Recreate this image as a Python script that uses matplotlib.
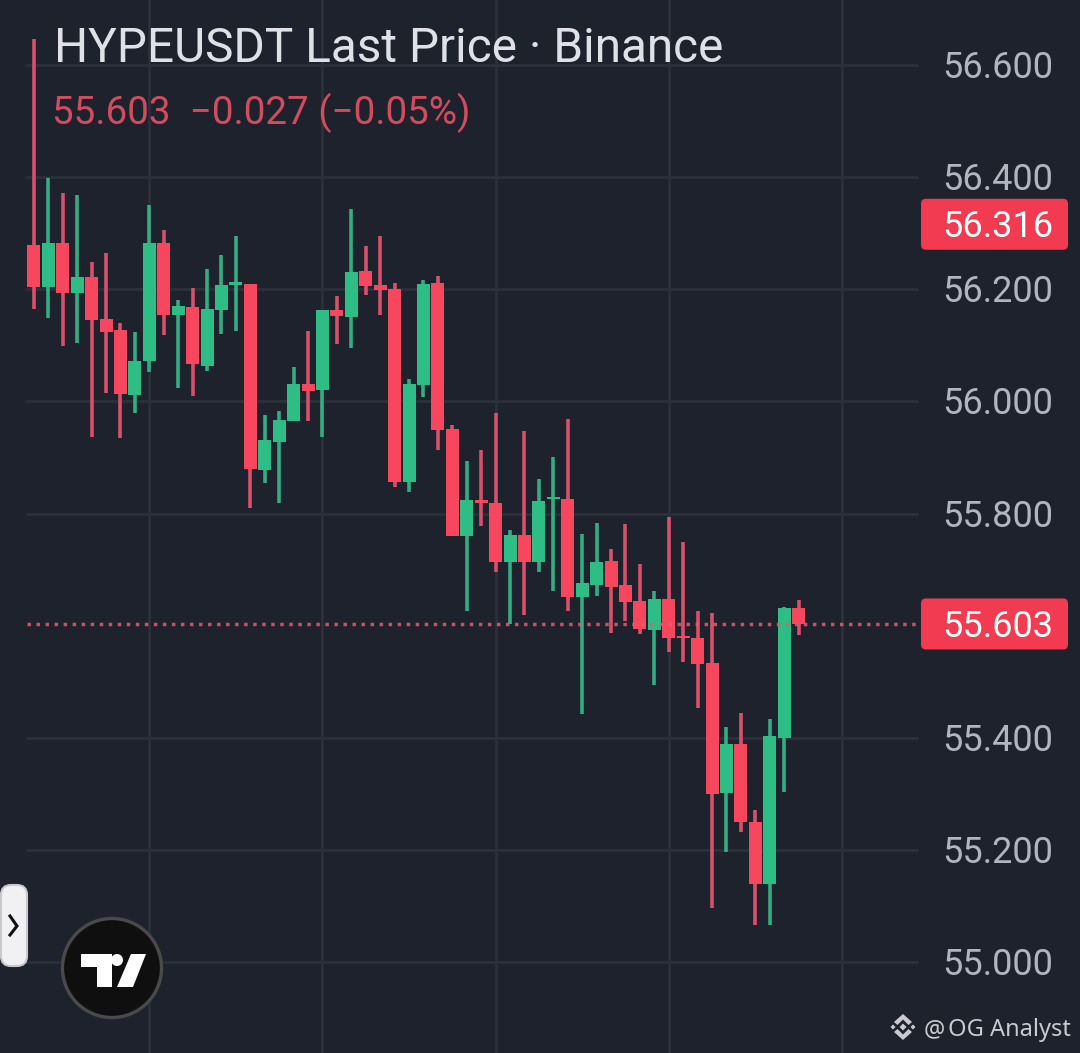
import matplotlib
matplotlib.use("Agg")
from matplotlib import pyplot as plt
from matplotlib.patches import Circle, FancyBboxPatch, Polygon

plt.rcParams['font.family'] = ['Roboto', 'DejaVu Sans']

# candles, oldest first
opens = [56.279, 56.204, 56.283, 56.193, 56.222, 56.147, 56.127, 56.011, 56.072, 56.283,
         56.154, 56.168, 56.063, 56.163, 56.208, 56.209, 55.878, 55.928, 55.965, 56.031,
         56.020, 56.163, 56.151, 56.233, 56.208, 56.201, 55.856, 56.029, 56.211, 55.951,
         55.760, 55.824, 55.819, 55.714, 55.762, 55.714, 55.826, 55.826, 55.651, 55.672,
         55.715, 55.672, 55.644, 55.592, 55.648, 55.582, 55.578, 55.533, 55.301, 55.389,
         55.250, 55.139, 55.400, 55.631]
highs = [56.646, 56.399, 56.372, 56.368, 56.249, 56.265, 56.140, 56.124, 56.350, 56.306,
         56.181, 56.202, 56.236, 56.261, 56.295, 56.209, 55.976, 55.983, 56.061, 56.126,
         56.163, 56.188, 56.343, 56.277, 56.295, 56.211, 56.040, 56.217, 56.224, 55.958,
         55.894, 55.913, 55.979, 55.771, 55.947, 55.862, 55.901, 55.969, 55.763, 55.783,
         55.737, 55.781, 55.710, 55.662, 55.794, 55.749, 55.626, 55.623, 55.419, 55.444,
         55.271, 55.433, 55.633, 55.646]
lows = [56.165, 56.149, 56.099, 56.104, 55.937, 56.015, 55.935, 55.979, 56.052, 56.118,
        56.024, 56.010, 56.054, 56.120, 56.126, 55.810, 55.854, 55.819, 55.965, 55.965,
        55.937, 56.102, 56.095, 56.190, 56.154, 55.847, 55.838, 56.008, 55.913, 55.760,
        55.626, 55.778, 55.696, 55.603, 55.619, 55.696, 55.662, 55.626, 55.442, 55.653,
        55.587, 55.608, 55.585, 55.494, 55.553, 55.535, 55.453, 55.096, 55.196, 55.232,
        55.066, 55.066, 55.303, 55.583]
closes = [56.204, 56.283, 56.193, 56.222, 56.145, 56.124, 56.013, 56.072, 56.283, 56.154,
          56.170, 56.067, 56.165, 56.208, 56.213, 55.879, 55.931, 55.967, 56.031, 56.019,
          56.163, 56.152, 56.231, 56.206, 56.199, 55.856, 56.031, 56.209, 55.949, 55.760,
          55.824, 55.819, 55.714, 55.762, 55.714, 55.822, 55.829, 55.651, 55.676, 55.714,
          55.669, 55.642, 55.594, 55.648, 55.578, 55.578, 55.532, 55.300, 55.389, 55.250,
          55.139, 55.403, 55.631, 55.603]

price_ticks = [56.6, 56.4, 56.2, 56.0, 55.8, 55.6, 55.4, 55.2, 55.0]
time_grid = [8, 20, 32, 44, 56]
last_price = 55.603
tag_prices = [56.316, 55.603]
title = "HYPEUSDT Last Price · Binance"
subtitle = "55.603  \u22120.027 (\u22120.05%)"

BG = "#1e222d"
GRID = "#2c303b"
RED = "#f7475f"
GREEN = "#2ebd85"
RED_WICK = "#d8506a"
GREEN_WICK = "#35ad82"

fig = plt.figure(figsize=(10.8, 10.53), dpi=100, facecolor=BG)
ax = fig.add_axes([0, 0, 1, 1], facecolor=BG)
ax.set_xlim(-2.35, 72.5)
ax.set_ylim(54.8377, 56.7160)
ax.axis("off")

# grid
ytrans = ax.get_yaxis_transform()
for p in price_ticks:
    if p != 55.6:
        ax.plot([27 / 1080, 917 / 1080], [p, p], transform=ytrans, color=GRID, lw=2.0, zorder=1)
for t in time_grid:
    ax.axvline(t, color=GRID, lw=2.0, zorder=1)

# candles
for i in range(len(opens)):
    up = closes[i] >= opens[i]
    ax.vlines(i, lows[i], highs[i], color=GREEN_WICK if up else RED_WICK, lw=2.6, zorder=2)
    ax.bar(i, abs(closes[i] - opens[i]), bottom=min(opens[i], closes[i]), width=0.9,
           color=GREEN if up else RED, zorder=3, linewidth=0)

# last price line
ax.plot([27 / 1080, 917 / 1080], [last_price, last_price], transform=ytrans, color="#e85a70",
        lw=2.5, linestyle=(0, (1, 1.6)), alpha=0.85, zorder=4)

# price labels
for p in price_ticks:
    if p != 55.6:
        ax.annotate(f"{p:.3f}", (998 / 1080, p), xycoords=ytrans, xytext=(0, 0.7),
                    textcoords="offset points", ha="center", va="center_baseline",
                    fontsize=26, color="#b2b5be", zorder=5)

# pixel overlay for the furniture
ov = fig.add_axes([0, 0, 1, 1], facecolor="none")
ov.set_xlim(0, 1080)
ov.set_ylim(1053, 0)
ov.axis("off")

for p in tag_prices:
    yc = ov.transData.inverted().transform(ax.transData.transform((0, p)))[1]
    ov.add_patch(FancyBboxPatch((924, yc - 22.5), 141, 45, boxstyle="round,pad=3,rounding_size=5",
                                fc="#f23a50", ec="none"))
    ov.text(998, yc - 1, f"{p:.3f}", ha="center", va="center_baseline", fontsize=26, color="#ffffff")

ov.text(54.5, 44.5, title, ha="left", va="center_baseline", fontsize=34.4, color="#dfe1e6")
ov.text(52.5, 108, subtitle, ha="left", va="center_baseline", fontsize=27.8, color="#d14d5e")

# side tab
ov.add_patch(FancyBboxPatch((9, 893), 10, 65, boxstyle="round,pad=8,rounding_size=10",
                            fc="#f1f1f3", ec="#c9c9cc", lw=1.5))
ov.plot([10, 17, 10], [916, 926, 935], color="#111111", lw=2.2, solid_joinstyle="miter")

# tradingview badge
ov.add_patch(Circle((112, 968), 49.5, fc="#0f0f10", ec="#4a4a4c", lw=2.4))
ov.add_patch(Polygon([(81, 954), (112, 954), (112, 987), (97, 987), (97, 967), (81, 967)], fc="white", ec="none"))
ov.add_patch(Circle((117, 960), 6, fc="white", ec="none"))
ov.add_patch(Polygon([(131, 954), (146, 954), (133, 987), (117, 987)], fc="white", ec="none"))

# watermark
mark = "#c9cad0"
ov.add_patch(Polygon([(903, 1014), (912, 1022), (908.5, 1025), (903, 1019.5), (897.5, 1025), (894, 1022)], fc=mark, ec="none"))
ov.add_patch(Polygon([(903, 1040), (912, 1032), (908.5, 1029), (903, 1034.5), (897.5, 1029), (894, 1032)], fc=mark, ec="none"))
ov.add_patch(Polygon([(903, 1023.5), (906.5, 1027), (903, 1030.5), (899.5, 1027)], fc=mark, ec="none"))
ov.add_patch(Polygon([(893, 1024.5), (895.5, 1027), (893, 1029.5), (890.5, 1027)], fc=mark, ec="none"))
ov.add_patch(Polygon([(913, 1024.5), (915.5, 1027), (913, 1029.5), (910.5, 1027)], fc=mark, ec="none"))
ov.text(924, 1027, "@", ha="left", va="center_baseline", fontsize=17,
        color=mark, family=["Noto Sans", "DejaVu Sans"])
ov.text(1071, 1027, "OG Analyst", ha="right", va="center_baseline", fontsize=17,
        color=mark, family=["Noto Sans", "DejaVu Sans"])

fig.savefig("out.png", dpi=100, facecolor=BG)
